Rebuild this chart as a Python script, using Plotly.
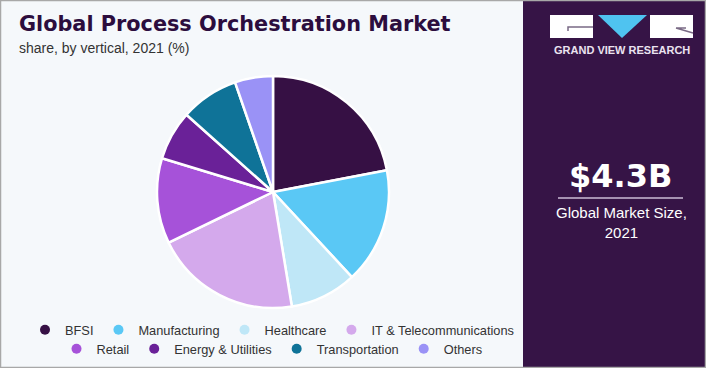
import plotly.graph_objects as go

categories = ["BFSI", "Manufacturing", "Healthcare", "IT & Telecommunications",
              "Retail", "Energy & Utilities", "Transportation", "Others"]
shares = [22.0, 16.1, 9.3, 20.4, 11.9, 6.9, 8.1, 5.3]
colors = ["#361044", "#5ac8f5", "#bfe7f7", "#d4a9ec", "#a652d9", "#6a2198", "#0f7398", "#9a92f6"]

title_text = "Global Process Orchestration Market"
subtitle_text = "share, by vertical, 2021 (%)"
market_size = "$4.3B"
market_label = "Global Market Size,<br>2021"
brand = "GRAND VIEW RESEARCH"

W, H = 706, 368
BG = "#f5f8fb"
PANEL = "#361446"
FONT = "Liberation Sans, Arial, sans-serif"
BOLD = "DejaVu Sans, Liberation Sans, sans-serif"

fig = go.Figure()

fig.add_trace(go.Pie(
    labels=categories, values=shares, sort=False, direction="clockwise", rotation=0,
    marker=dict(colors=colors, line=dict(color="white", width=2.5)),
    textinfo="none", hoverinfo="label+percent", showlegend=False,
    domain=dict(x=[157 / W, 389 / W], y=[60 / H, 292 / H]),
))

# legend entries (two centered rows)
for i, (cat, col) in enumerate(zip(categories, colors)):
    fig.add_trace(go.Scatter(
        x=[None], y=[None], mode="markers", name=cat,
        marker=dict(color=col, size=10, symbol="circle"),
        legend="legend" if i < 4 else "legend2", showlegend=True,
    ))

legend_common = dict(orientation="h", xanchor="center", yanchor="middle",
                     bgcolor="rgba(0,0,0,0)", borderwidth=0,
                     font=dict(family=FONT, size=12.8, color="#333333"),
                     itemwidth=30, tracegroupgap=0)

shapes = [
    # right panel
    dict(type="rect", xref="paper", yref="paper", x0=523 / W, x1=1, y0=0, y1=1,
         fillcolor=PANEL, line=dict(width=0), layer="below"),
    # logo blocks
    dict(type="rect", xref="paper", yref="paper", x0=550 / W, x1=593 / W,
         y0=1 - 38 / H, y1=1 - 15 / H, fillcolor="white", line=dict(width=0)),
    dict(type="rect", xref="paper", yref="paper", x0=650 / W, x1=693 / W,
         y0=1 - 38 / H, y1=1 - 15 / H, fillcolor="white", line=dict(width=0)),
    dict(type="path", xref="paper", yref="paper",
         path=f"M {598 / W} {1 - 15 / H} L {647 / W} {1 - 15 / H} L {622 / W} {1 - 38 / H} Z",
         fillcolor="#4fc3f0", line=dict(width=0)),
    # G and R cut lines
    dict(type="path", xref="paper", yref="paper",
         path=f"M {568 / W} {1 - 31 / H} L {568 / W} {1 - 27 / H} L {593 / W} {1 - 27 / H}",
         line=dict(color="#7a6a85", width=1.5)),
    dict(type="path", xref="paper", yref="paper",
         path=f"M {676 / W} {1 - 28 / H} L {693 / W} {1 - 33 / H} M {676 / W} {1 - 28 / H} L {686 / W} {1 - 28 / H}",
         line=dict(color="#7a6a85", width=1.5)),
    # underline below market size
    dict(type="line", xref="paper", yref="paper", x0=558 / W, x1=683 / W,
         y0=1 - 198 / H, y1=1 - 198 / H, line=dict(color="#cbbbd6", width=1.5)),
    # outer border
    dict(type="rect", xref="paper", yref="paper", x0=0.5 / W, x1=1 - 0.5 / W, y0=0.5 / H, y1=1 - 0.5 / H,
         line=dict(color="#a8a8a8", width=1.5), fillcolor="rgba(0,0,0,0)"),
]

annotations = [
    dict(text=f"<b>{title_text}</b>", x=17 / W, y=1 - 24 / H, xref="paper", yref="paper",
         xanchor="left", yanchor="middle", showarrow=False,
         font=dict(family=BOLD, size=20.8, color="#2c0d3e")),
    dict(text=subtitle_text, x=17 / W, y=1 - 48 / H, xref="paper", yref="paper",
         xanchor="left", yanchor="middle", showarrow=False,
         font=dict(family=FONT, size=14, color="#333333")),
    dict(text=f"<b>{brand}</b>", x=622 / W, y=1 - 50 / H, xref="paper", yref="paper",
         xanchor="center", yanchor="middle", showarrow=False,
         font=dict(family=FONT, size=11, color="#ebe3f0")),
    dict(text=f"<b>{market_size}</b>", x=620 / W, y=1 - 176 / H, xref="paper", yref="paper",
         xanchor="center", yanchor="middle", showarrow=False,
         font=dict(family=BOLD, size=32, color="white")),
    dict(text=market_label, x=621 / W, y=1 - 222 / H, xref="paper", yref="paper",
         xanchor="center", yanchor="middle", showarrow=False,
         font=dict(family=FONT, size=15, color="white")),
]

fig.update_layout(
    width=W, height=H,
    margin=dict(l=0, r=0, t=0, b=0),
    paper_bgcolor=BG, plot_bgcolor=BG,
    xaxis=dict(visible=False), yaxis=dict(visible=False),
    legend=dict(x=272 / W, y=1 - 330 / H, **legend_common),
    legend2=dict(x=272 / W, y=1 - 349 / H, **legend_common),
    shapes=shapes, annotations=annotations,
)

fig.write_html("out.html", config={"displayModeBar": False},
               post_script="document.body.style.margin='0';document.body.style.overflow='hidden';")
